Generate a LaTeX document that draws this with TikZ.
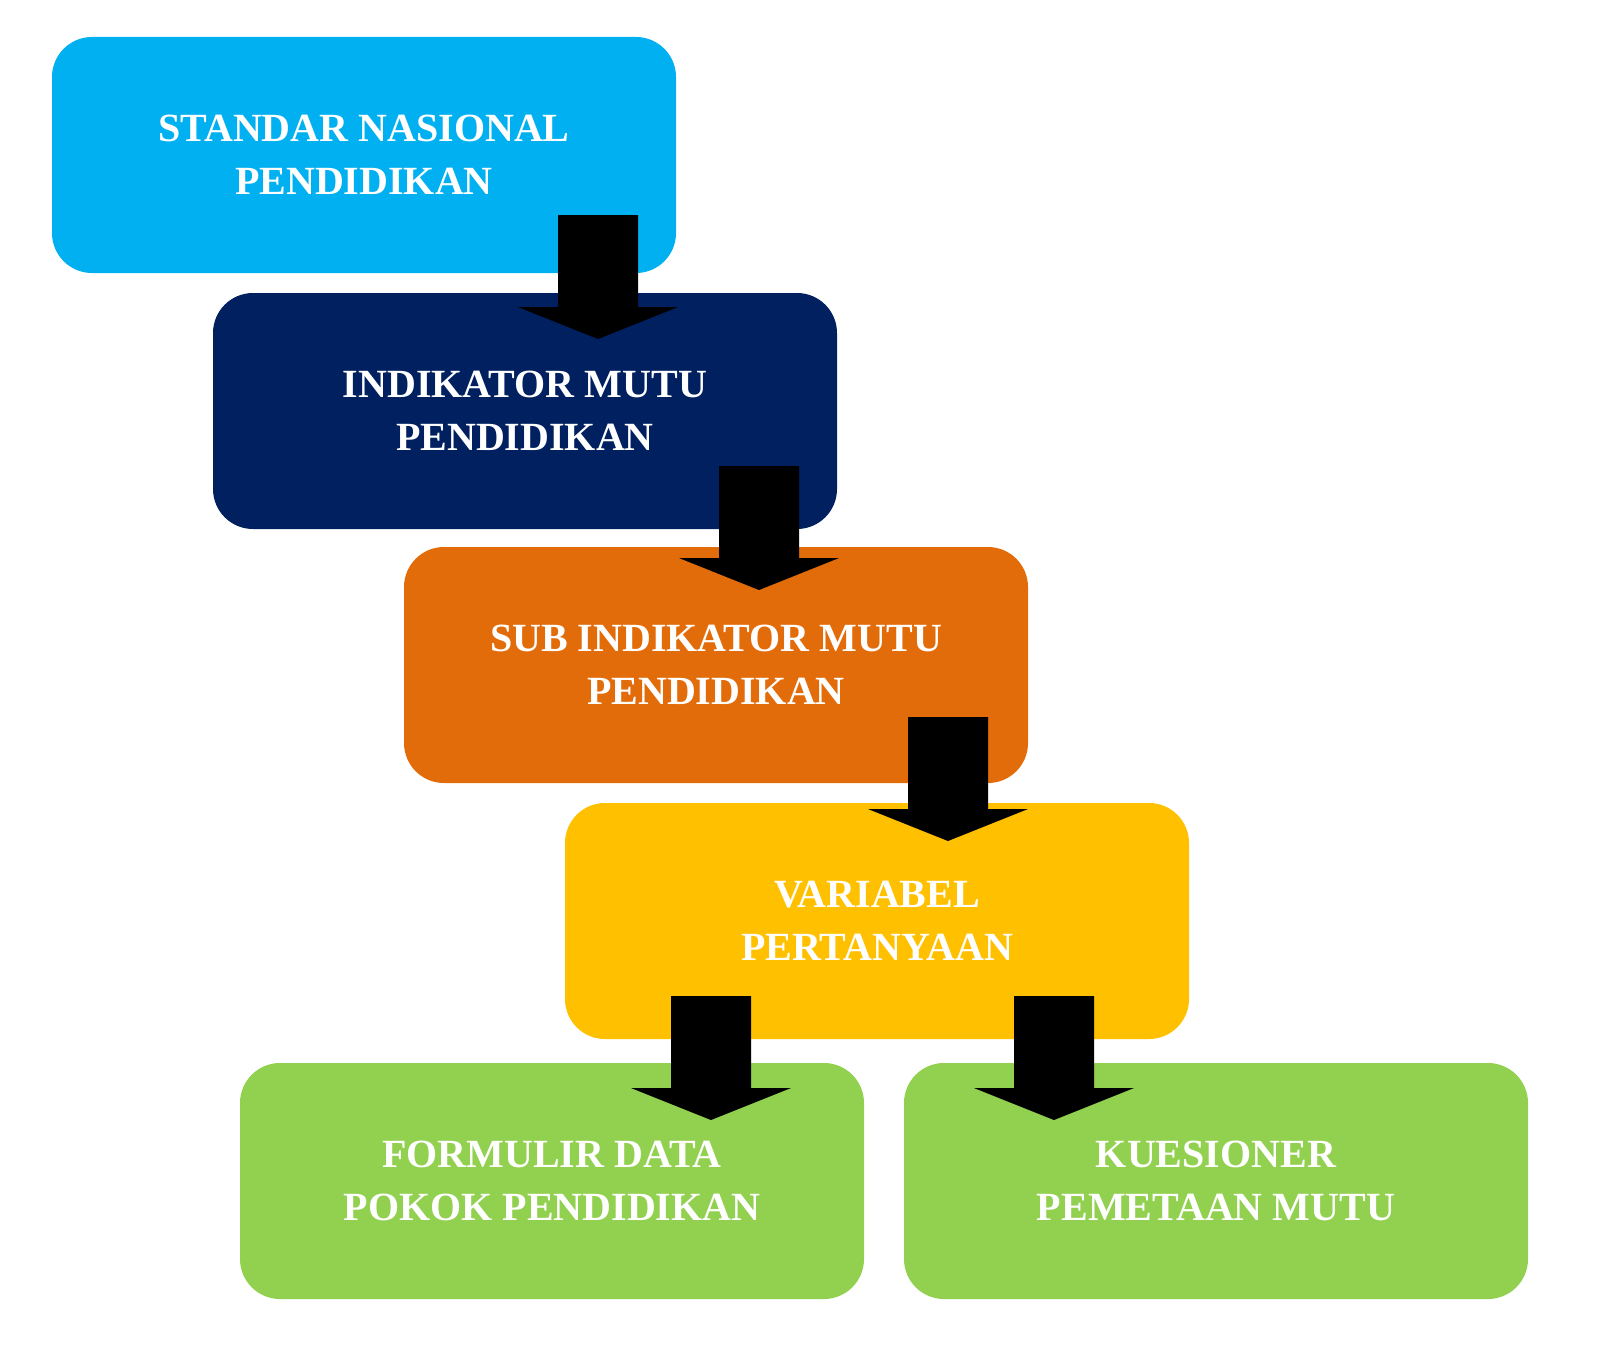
\documentclass[tikz,border=0pt]{standalone}
\usepackage{fontspec}
\setmainfont{Liberation Serif}
\definecolor{cA}{HTML}{00B0F0}
\definecolor{cB}{HTML}{002060}
\definecolor{cC}{HTML}{E36C0A}
\definecolor{cD}{HTML}{FFC000}
\definecolor{cE}{HTML}{92D050}
\begin{document}
\begin{tikzpicture}[x=1pt,y=-1pt,
  boxst/.style={rounded corners=40pt,minimum width=624pt,minimum height=236pt,inner sep=0pt,
    text=white,font=\fontsize{40}{53}\selectfont\bfseries,align=center},
  blockarrow/.style={fill=black}]
\useasboundingbox (0,0) rectangle (1600,1354);
\node[boxst,fill=cA] (a) at (364,155) {STANDAR NASIONAL\\PENDIDIKAN};
\node[boxst,fill=cB] (b) at (525,411) {INDIKATOR MUTU\\PENDIDIKAN};
\node[boxst,fill=cC] (c) at (716,665) {SUB INDIKATOR MUTU\\PENDIDIKAN};
\node[boxst,fill=cD] (d) at (877,921) {VARIABEL\\PERTANYAAN};
\node[boxst,fill=cE] (e) at (552,1181) {FORMULIR DATA\\POKOK PENDIDIKAN};
\node[boxst,fill=cE] (f) at (1216,1181) {KUESIONER\\PEMETAAN MUTU};
\foreach \cx/\ty in {598/215, 759/466, 948/717, 711/996, 1054/996}{
  \fill[blockarrow] (\cx-40,\ty) -- (\cx+40,\ty) -- (\cx+40,\ty+92) -- (\cx+80,\ty+92)
    -- (\cx,\ty+124) -- (\cx-80,\ty+92) -- (\cx-40,\ty+92) -- cycle;
}
\end{tikzpicture}
\end{document}
